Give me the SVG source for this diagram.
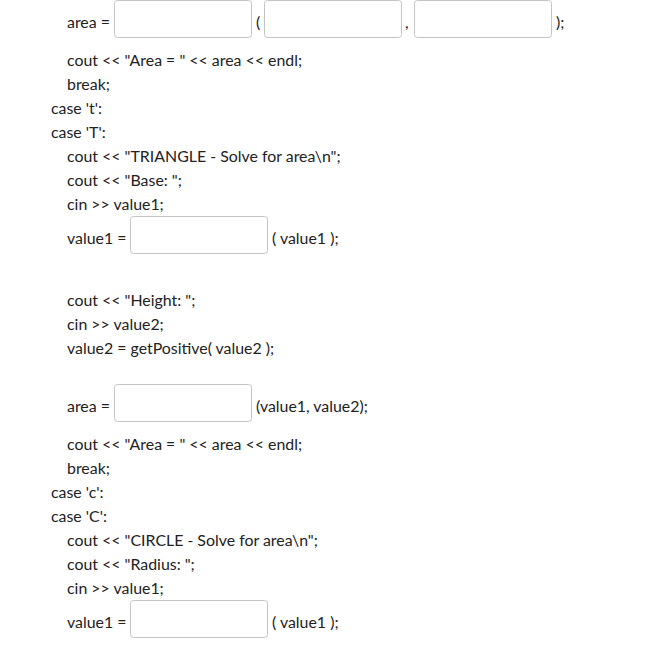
<svg xmlns="http://www.w3.org/2000/svg" width="662" height="648" viewBox="0 0 662 648">
<style>
text{font-family:Lato,"Open Sans","Liberation Sans",sans-serif;font-size:15.9px;fill:#222}
.box{fill:#fff;stroke:#c4c4c4;stroke-width:1}
</style>
<rect width="662" height="648" fill="#fff"/>
<g id="code">
<text x="67" y="28">area =</text>
<text x="256" y="28">(</text>
<text x="405" y="28">,</text>
<text x="556" y="28">);</text>
<text x="67" y="66">cout &lt;&lt; "Area = " &lt;&lt; area &lt;&lt; endl;</text>
<text x="67" y="90">break;</text>
<text x="51" y="114">case 't':</text>
<text x="51" y="138">case 'T':</text>
<text x="67" y="162">cout &lt;&lt; "TRIANGLE - Solve for area\n";</text>
<text x="67" y="186">cout &lt;&lt; "Base: ";</text>
<text x="67" y="210">cin &gt;&gt; value1;</text>
<text x="67" y="244">value1 =</text>
<text x="272" y="244">( value1 );</text>
<text x="67" y="306">cout &lt;&lt; "Height: ";</text>
<text x="67" y="330">cin &gt;&gt; value2;</text>
<text x="67" y="354">value2 = getPositive( value2 );</text>
<text x="67" y="412">area =</text>
<text x="256" y="412">(value1, value2);</text>
<text x="67" y="450">cout &lt;&lt; "Area = " &lt;&lt; area &lt;&lt; endl;</text>
<text x="67" y="474">break;</text>
<text x="51" y="498">case 'c':</text>
<text x="51" y="522">case 'C':</text>
<text x="67" y="546">cout &lt;&lt; "CIRCLE - Solve for area\n";</text>
<text x="67" y="570">cout &lt;&lt; "Radius: ";</text>
<text x="67" y="594">cin &gt;&gt; value1;</text>
<text x="67" y="628">value1 =</text>
<text x="272" y="628">( value1 );</text>
</g>
<g id="boxes">
<rect class="box" x="114.5" y="0.5" width="137" height="37" rx="3"/>
<rect class="box" x="264.5" y="0.5" width="137" height="37" rx="3"/>
<rect class="box" x="414.5" y="0.5" width="137" height="37" rx="3"/>
<rect class="box" x="130.5" y="216.5" width="137" height="37" rx="3"/>
<rect class="box" x="114.5" y="384.5" width="137" height="37" rx="3"/>
<rect class="box" x="130.5" y="600.5" width="137" height="37" rx="3"/>
</g>
<g id="connectors"/>
</svg>
